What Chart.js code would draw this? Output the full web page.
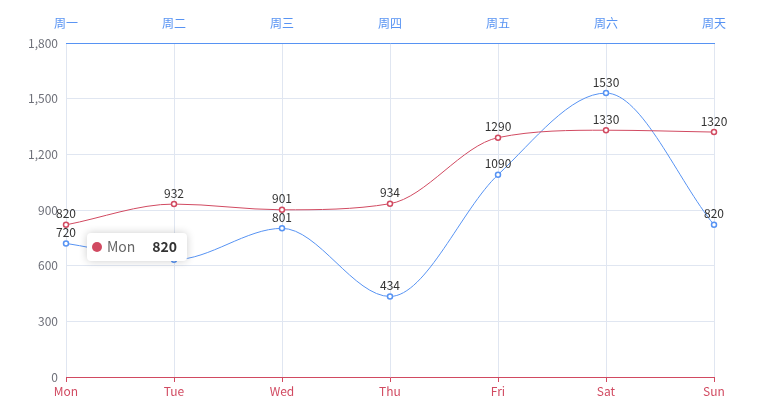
<!DOCTYPE html>
<html>
<head>
<meta charset="utf-8">
<script src="https://cdn.jsdelivr.net/npm/chart.js@4"></script>
<style>
  html, body { margin: 0; padding: 0; background: #fff; }
  #wrap { width: 778px; height: 416px; }
</style>
</head>
<body>
<div id="wrap"><canvas id="chart"></canvas></div>
<script>
// Chart data
const daysEn = ['Mon', 'Tue', 'Wed', 'Thu', 'Fri', 'Sat', 'Sun'];
const daysZh = ['周一', '周二', '周三', '周四', '周五', '周六', '周天'];
const redValues = [820, 932, 901, 934, 1290, 1330, 1320];
const blueValues = [720, 632, 801, 434, 1090, 1530, 820];
const yTicks = [0, 300, 600, 900, 1200, 1500, 1800];

const RED = '#d14a61';
const BLUE = '#5793f3';
const FONT = '"Noto Sans CJK SC", "Noto Sans", sans-serif';

// Value labels above each point
const pointLabels = {
    id: 'pointLabels',
    afterDatasetsDraw(chart) {
        const c = chart.ctx;
        c.save();
        c.font = '12px ' + FONT;
        c.fillStyle = '#333';
        c.textAlign = 'center';
        c.textBaseline = 'bottom';
        chart.data.datasets.forEach((ds, i) => {
            chart.getDatasetMeta(i).data.forEach((pt, j) => {
                c.fillText(ds.data[j].toLocaleString('en-US').replace(',', ''), pt.x, pt.y - 5);
            });
        });
        c.restore();
    }
};

// Static tooltip box for Mon (red series)
const fakeTooltip = {
    id: 'fakeTooltip',
    afterDraw(chart) {
        const c = chart.ctx;
        c.save();
        const x = 87, y = 233, w = 100, h = 28;
        c.shadowColor = 'rgba(0,0,0,0.2)';
        c.shadowBlur = 8;
        c.fillStyle = '#fff';
        c.beginPath();
        c.roundRect(x, y, w, h, 4);
        c.fill();
        c.shadowBlur = 0;
        c.fillStyle = RED;
        c.beginPath();
        c.arc(x + 10, y + h / 2, 5, 0, Math.PI * 2);
        c.fill();
        c.textBaseline = 'middle';
        c.fillStyle = '#666';
        c.font = '14px ' + FONT;
        c.fillText(daysEn[0], x + 20, y + h / 2);
        c.fillStyle = '#333';
        c.font = 'bold 14px ' + FONT;
        c.textAlign = 'right';
        c.fillText(String(redValues[0]), x + w - 10, y + h / 2);
        c.restore();
    }
};

const ctx = document.getElementById('chart').getContext('2d');
new Chart(ctx, {
    type: 'line',
    data: {
        datasets: [
            {
                label: 'red',
                data: redValues,
                xAxisID: 'x',
                borderColor: RED,
                borderWidth: 1,
                backgroundColor: '#fff',
                pointBorderColor: RED,
                pointBorderWidth: 1.5,
                pointRadius: 2.5,
                tension: 0.4,
                cubicInterpolationMode: 'monotone'
            },
            {
                label: 'blue',
                data: blueValues,
                xAxisID: 'x2',
                borderColor: BLUE,
                borderWidth: 1,
                backgroundColor: '#fff',
                pointBorderColor: BLUE,
                pointBorderWidth: 1.5,
                pointRadius: 2.5,
                tension: 0.4,
                cubicInterpolationMode: 'monotone'
            }
        ]
    },
    options: {
        responsive: true,
        maintainAspectRatio: false,
        animation: false,
        layout: { padding: { right: 64 } },
        plugins: { legend: { display: false }, tooltip: { enabled: false } },
        scales: {
            x: {
                type: 'category',
                labels: daysEn,
                position: 'bottom',
                offset: false,
                afterFit(s) { s.height = 39; },
                grid: { color: '#e0e6f1', drawTicks: true, tickLength: 5, tickColor: RED },
                border: { color: RED },
                ticks: { color: RED, font: { family: FONT, size: 12 }, maxRotation: 0, padding: 2 }
            },
            x2: {
                type: 'category',
                labels: daysZh,
                position: 'top',
                offset: false,
                afterFit(s) { s.height = 43; },
                grid: { display: false },
                border: { color: BLUE },
                ticks: { color: BLUE, font: { family: FONT, size: 12 }, maxRotation: 0, padding: 4 }
            },
            y: {
                min: 0,
                max: 1800,
                afterFit(s) { s.width = 66; },
                afterBuildTicks(s) { s.ticks = yTicks.map(v => ({ value: v })); },
                grid: { color: '#e0e6f1', drawTicks: false },
                border: { display: false },
                ticks: { color: '#6e7079', font: { family: FONT, size: 12 }, padding: 8 }
            }
        }
    },
    plugins: [pointLabels, fakeTooltip]
});
</script>
</body>
</html>
